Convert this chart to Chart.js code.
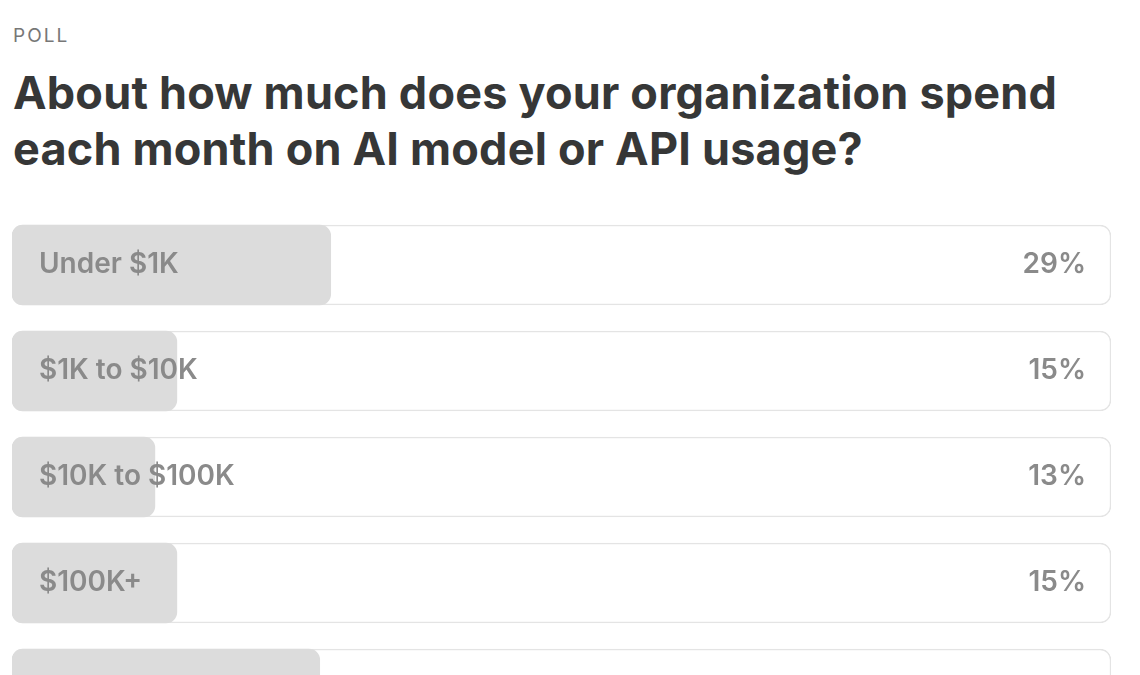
<!DOCTYPE html>
<html>
<head>
<meta charset="utf-8">
<script src="https://cdn.jsdelivr.net/npm/chart.js@4/dist/chart.umd.min.js"></script>
<style>
  html, body { margin: 0; padding: 0; background: #fff; overflow: hidden; }
  body { width: 1140px; height: 675px; position: relative; font-family: Inter, "Noto Sans", sans-serif; }
  #kicker { position: absolute; left: 13px; top: 25px; font-size: 19px; line-height: 22px; letter-spacing: 2px; color: #777; }
  #title { position: absolute; left: 13px; top: 65px; width: 1120px; font-size: 45px; line-height: 56px; font-weight: 700; color: #363737; letter-spacing: 0.2px; }
  #poll { position: absolute; left: 0; top: 212px; }
</style>
</head>
<body>
<div id="kicker">POLL</div>
<div id="title">About how much does your organization spend each month on AI model or API usage?</div>
<canvas id="poll" width="1140" height="530"></canvas>
<script>
const categories = ['Under $1K', '$1K to $10K', '$10K to $100K', '$100K+', 'Not sure'];
const shares = [29, 15, 13, 15, 28];
const trackValues = [100, 100, 100, 100, 100];

// draws option text and percentage inside each row
const rowLabels = {
    id: 'rowLabels',
    afterDatasetsDraw(chart) {
        const ctx = chart.ctx;
        const area = chart.chartArea;
        const yScale = chart.scales.y;
        ctx.save();
        ctx.font = '600 28px Inter, "Noto Sans", sans-serif';
        ctx.fillStyle = '#8a8a8a';
        ctx.textBaseline = 'middle';
        for (let i = 0; i < categories.length; i++) {
            const y = yScale.getPixelForValue(i);
            ctx.textAlign = 'left';
            ctx.fillText(categories[i], area.left + 27, y);
            ctx.textAlign = 'right';
            ctx.fillText(shares[i] + '%', area.right - 25, y);
        }
        ctx.restore();
    }
};

const ctx = document.getElementById('poll').getContext('2d');
const PollChart = new Chart(ctx, {
    type: 'bar',
    data: {
        labels: categories,
        datasets: [
            {
                label: 'share',
                data: shares,
                backgroundColor: '#dcdcdc',
                borderWidth: 0,
                borderRadius: 11,
                borderSkipped: false,
                barThickness: 80,
                grouped: false,
                order: 0
            },
            {
                label: 'track',
                data: trackValues,
                backgroundColor: '#ffffff',
                borderColor: '#e4e4e4',
                borderWidth: 1.5,
                borderRadius: 11,
                borderSkipped: false,
                barThickness: 80,
                grouped: false,
                order: 1
            }
        ]
    },
    options: {
        indexAxis: 'y',
        responsive: false,
        devicePixelRatio: 1,
        animation: false,
        layout: { padding: { left: 12, right: 29, top: 0, bottom: 0 } },
        scales: {
            x: { display: false, min: 0, max: 100 },
            y: { display: false, offset: true }
        },
        plugins: {
            legend: { display: false },
            tooltip: { enabled: false }
        }
    },
    plugins: [rowLabels]
});
</script>
</body>
</html>
